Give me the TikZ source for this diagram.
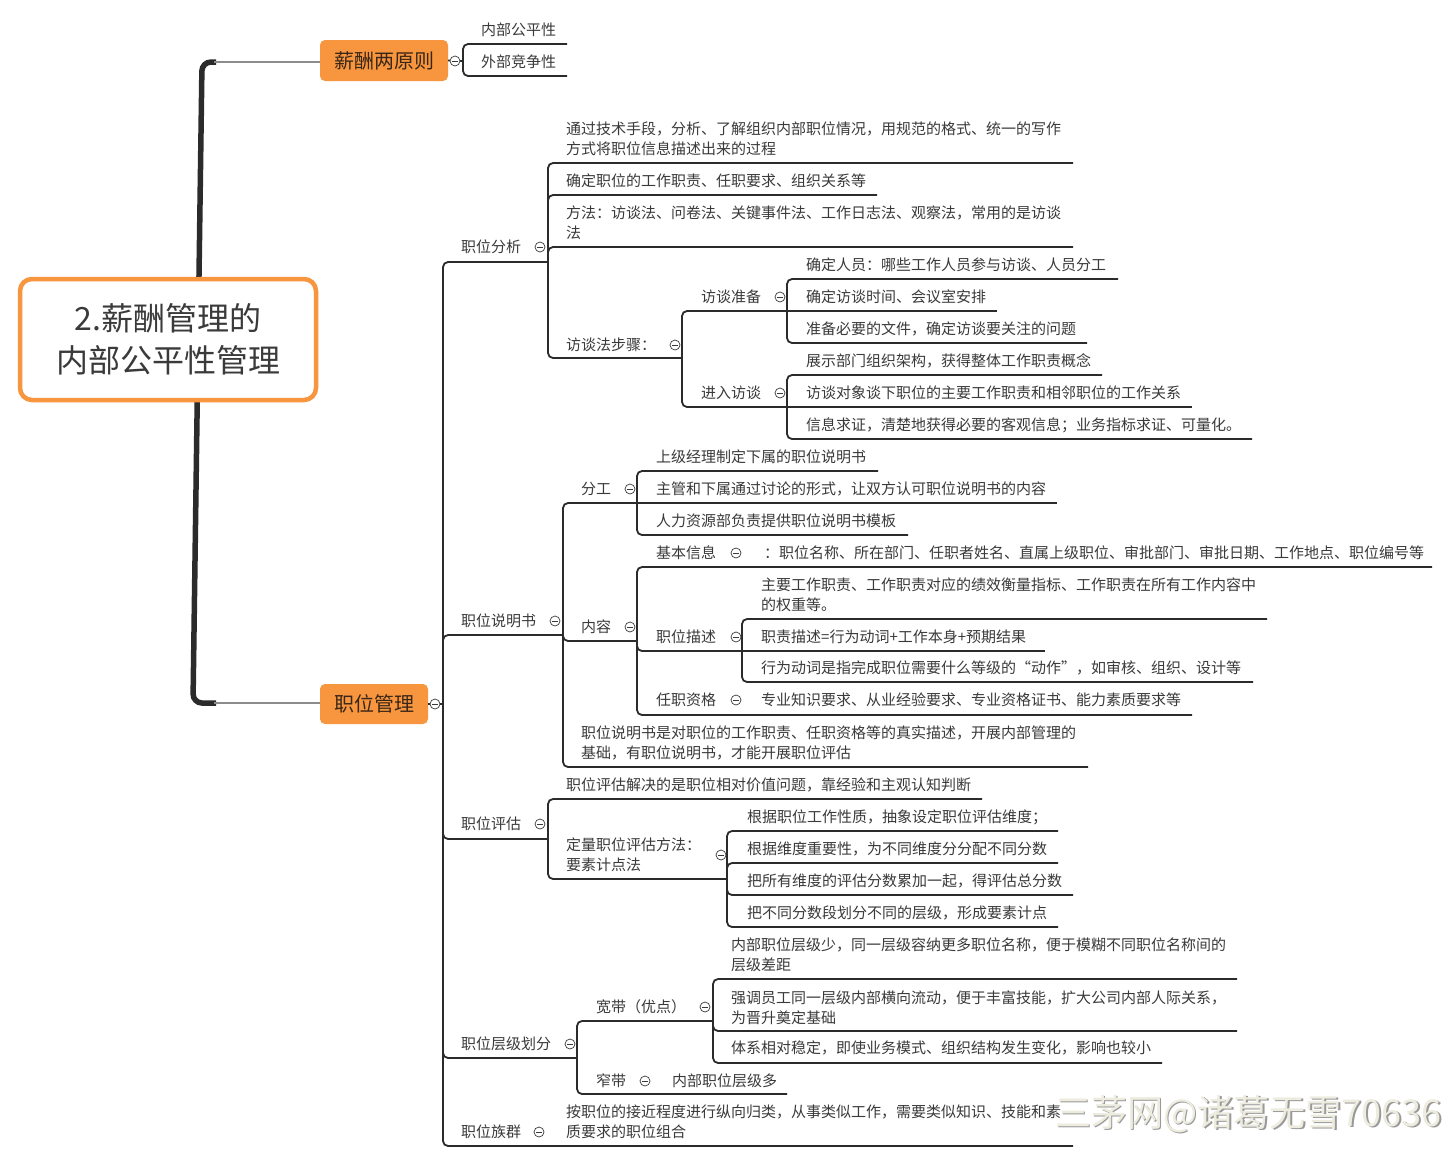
\documentclass[tikz,border=0pt]{standalone}
\usepackage{fontspec}
\setmainfont{Noto Sans CJK SC}
\definecolor{org}{HTML}{F7963F}
\definecolor{txt}{HTML}{3A3A3A}
\definecolor{ln}{HTML}{2B2B2B}
\definecolor{boxtxt}{HTML}{3A2616}
\definecolor{wm}{HTML}{EDECDF}
\tikzset{
  conn/.style={draw=ln, line width=1.8pt, rounded corners=5pt},
  lab/.style={anchor=west, inner sep=0pt, text=txt, font=\fontsize{15}{20}\selectfont, align=left},
  topbox/.style={fill=org, rounded corners=5pt, inner sep=0pt, text=boxtxt, font=\fontsize{20}{24}\selectfont},
  fold/.style={circle, draw=txt, fill=white, minimum size=10pt, inner sep=0pt, line width=0.7pt,
    path picture={\draw[line width=0.7pt,txt] ([xshift=-2.8pt]path picture bounding box.center) -- ([xshift=2.8pt]path picture bounding box.center);}},
  wmark/.style={anchor=west, inner sep=0pt, font=\fontsize{37}{40}\selectfont},
}
\newcommand\leaf[8]{%
  \node[lab] (#1) at (#4,#5) {#8};
  \coordinate (#1-e) at (#7,#6);
  \ifdim #3pt=#6pt \draw[conn] (#2,#3) -- (#1-e);\else \draw[conn] (#2,#3) |- (#1-e);\fi}
\begin{document}
\begin{tikzpicture}[x=1pt,y=-1pt]
\useasboundingbox (0,0) rectangle (1450,1163);
\fill[white] (0,0) rectangle (1450,1163);

% trunk
\draw[line width=5.5pt, draw=ln, rounded corners=9pt] (216,62) -- (202,62) -- (193,703) -- (216,703);
\node[topbox, minimum width=128pt, minimum height=41pt] (yz) at (384,60.5) {薪酬两原则};
\node[topbox, minimum width=108pt, minimum height=40pt] (zw) at (374,704) {职位管理};
\draw[line width=1.8pt, draw=gray!90] (214,62) -- (yz.west |- 0,62);
\draw[line width=1.8pt, draw=gray!90] (214,703) -- (zw.west |- 0,703);

% root
\node[draw=org, line width=4.5pt, fill=white, rounded corners=12pt, minimum width=296pt, minimum height=121pt,
  inner sep=0pt, align=center, font=\fontsize{32}{42}\selectfont, text=txt] (root) at (168,339.5) {2.薪酬管理的\\内部公平性管理};

% 薪酬两原则
\draw[conn] (yz.east) -- (463,61);
\leaf{a1}{463}{61}{481}{30}{44}{567}{内部公平性}
\leaf{a2}{463}{61}{481}{62}{76}{567}{外部竞争性}

% 职位管理
\draw[conn] (zw.east) -- (443,704);
\leaf{b1}{443}{704}{461}{247}{262}{548}{职位分析}
\leaf{b2}{443}{704}{461}{621}{635}{563}{职位说明书}
\leaf{b3}{443}{704}{461}{824}{839}{548}{职位评估}
\leaf{b4}{443}{704}{461}{1044}{1058}{577}{职位层级划分}
\leaf{b5}{443}{704}{461}{1132}{1146}{1073}{职位族群}
\node[lab] (b5c) at (566,1122) {按职位的接近程度进行纵向归类，从事类似工作，需要类似知识、技能和素\\质要求的职位组合};

% 职位分析
\leaf{c1}{548}{262}{566}{138.5}{163}{1073}{通过技术手段，分析、了解组织内部职位情况，用规范的格式、统一的写作\\方式将职位信息描述出来的过程}
\leaf{c2}{548}{262}{566}{181}{195}{877}{确定职位的工作职责、任职要求、组织关系等}
\leaf{c3}{548}{262}{566}{222.5}{247}{1073}{方法：访谈法、问卷法、关键事件法、工作日志法、观察法，常用的是访谈\\法}
\leaf{c4}{548}{262}{566}{345}{358}{682}{访谈法步骤：}
\leaf{d1}{682}{358}{701}{297}{311}{787}{访谈准备}
\leaf{d2}{682}{358}{701}{393}{407}{787}{进入访谈}
\leaf{e1}{787}{311}{806}{265}{279}{1118}{确定人员：哪些工作人员参与访谈、人员分工}
\leaf{e2}{787}{311}{806}{297}{311}{997}{确定访谈时间、会议室安排}
\leaf{e3}{787}{311}{806}{329}{343}{1087}{准备必要的文件，确定访谈要关注的问题}
\leaf{e4}{787}{407}{806}{361}{375}{1102}{展示部门组织架构，获得整体工作职责概念}
\leaf{e5}{787}{407}{806}{393}{407}{1192}{访谈对象谈下职位的主要工作职责和相邻职位的工作关系}
\leaf{e6}{787}{407}{806}{425}{439}{1252}{信息求证，清楚地获得必要的客观信息；业务指标求证、可量化。}

% 职位说明书
\leaf{f1}{563}{635}{581}{489}{503}{637}{分工}
\leaf{f2}{563}{635}{581}{627}{641}{637}{内容}
\leaf{f3}{563}{635}{581}{743}{767}{1088}{职位说明书是对职位的工作职责、任职资格等的真实描述，开展内部管理的\\基础，有职位说明书，才能开展职位评估}
\leaf{g1}{637}{503}{656}{457}{471}{878}{上级经理制定下属的职位说明书}
\leaf{g2}{637}{503}{656}{489}{503}{1057}{主管和下属通过讨论的形式，让双方认可职位说明书的内容}
\leaf{g3}{637}{503}{656}{521}{535}{908}{人力资源部负责提供职位说明书模板}
\leaf{h1}{637}{641}{656}{553}{567}{1432}{基本信息}
\node[lab] (h1c) at (764,553) {：职位名称、所在部门、任职者姓名、直属上级职位、审批部门、审批日期、工作地点、职位编号等};
\leaf{h2}{637}{641}{656}{637}{651}{742}{职位描述}
\leaf{h3}{637}{641}{656}{700}{715}{1192}{任职资格}
\node[lab] (h3c) at (761,700) {专业知识要求、从业经验要求、专业资格证书、能力素质要求等};
\leaf{i1}{742}{651}{761}{595}{619}{1267}{主要工作职责、工作职责对应的绩效衡量指标、工作职责在所有工作内容中\\的权重等。}
\leaf{i2}{742}{651}{761}{637}{651}{1045}{职责描述=行为动词+工作本身+预期结果}
\leaf{i3}{742}{651}{761}{668}{682}{1253}{行为动词是指完成职位需要什么等级的“动作”，如审核、组织、设计等}

% 职位评估
\leaf{j1}{548}{839}{566}{785}{799}{982}{职位评估解决的是职位相对价值问题，靠经验和主观认知判断}
\leaf{j2}{548}{839}{566}{855}{879}{727}{定量职位评估方法：\\要素计点法}
\leaf{k1}{727}{879}{747}{817}{831}{1058}{根据职位工作性质，抽象设定职位评估维度；}
\leaf{k2}{727}{879}{747}{849}{863}{1058}{根据维度重要性，为不同维度分分配不同分数}
\leaf{k3}{727}{879}{747}{881}{895}{1073}{把所有维度的评估分数累加一起，得评估总分数}
\leaf{k4}{727}{879}{747}{913}{927}{1058}{把不同分数段划分不同的层级，形成要素计点}

% 职位层级划分
\leaf{l1}{577}{1058}{596}{1007}{1021}{713}{宽带（优点）}
\leaf{l2}{577}{1058}{596}{1081}{1094}{787}{窄带}
\node[lab] (l2c) at (672,1081) {内部职位层级多};
\leaf{m1}{713}{1021}{731}{954.5}{979}{1237}{内部职位层级少，同一层级容纳更多职位名称，便于模糊不同职位名称间的\\层级差距}
\leaf{m2}{713}{1021}{731}{1007.5}{1031}{1237}{强调员工同一层级内部横向流动，便于丰富技能，扩大公司内部人际关系，\\为晋升奠定基础}
\leaf{m3}{713}{1021}{731}{1048}{1063}{1162}{体系相对稳定，即使业务模式、组织结构发生变化，影响也较小}

% collapse marks
\foreach \p in {(455,61),(435,704),(540,247),(555,621),(540,824),(570,1044),(539,1132),(675,345),(780,297),(780,393),(630,489),(630,627),(736,553),(736,637),(736,700),(721,855),(705,1007),(645,1081)}
  \node[fold] at \p {};

% watermark
\node[wmark, text=gray!80] at (1056.5,1115.5) {\scalebox{0.975}[1]{三茅网@诸葛无雪70636}};
\node[wmark, text=wm] (wmk) at (1055,1114) {\scalebox{0.975}[1]{三茅网@诸葛无雪70636}};
\end{tikzpicture}
\end{document}
